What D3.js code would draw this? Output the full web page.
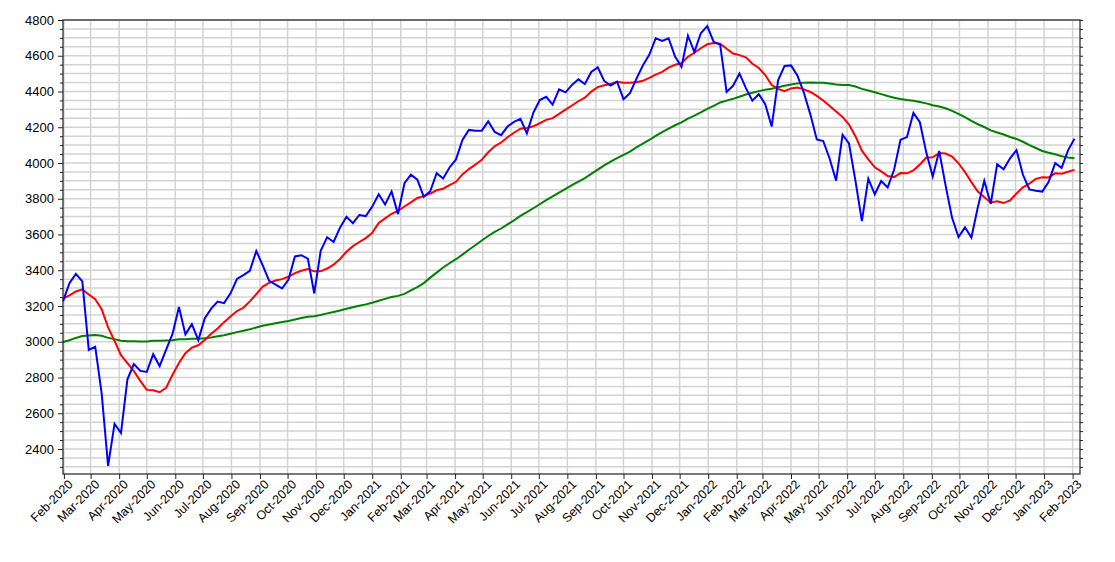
<!DOCTYPE html>
<html><head><meta charset="utf-8">
<script src="https://cdn.jsdelivr.net/npm/d3@7"></script>
<style>body{margin:0;background:#fff}svg{font-family:"DejaVu Sans",sans-serif}</style>
</head><body><svg id="c" width="1115" height="562"></svg>
<script>
// weekly closes before the plotted range (used only for moving averages)
const priorCloses = [2804,2743,2822,2800,2834,2893,2907,2905,2940,2946,2881,2860,2826,2752,2873,2887,2950,2942,2990,3014,2977,3026,2932,2919,2889,2847,2926,2979,3007,2992,2962,2952,2970,2986,3023,3067,3093,3120,3110,3141,3146,3169,3221,3240,3235,3265,3330,3295,3290];
const startDate = "2020-01-31";
const closes = [3226,3328,3380,3338,2954,2972,2711,2305,2541,2489,2790,2875,2837,2831,2930,2864,2955,3044,3194,3041,3098,3009,3130,3185,3225,3216,3271,3351,3373,3397,3508,3427,3341,3319,3298,3348,3477,3484,3465,3270,3509,3585,3558,3638,3699,3663,3709,3703,3756,3825,3768,3841,3714,3887,3935,3907,3811,3842,3943,3913,3975,4020,4129,4185,4180,4181,4233,4174,4156,4204,4230,4247,4166,4281,4352,4370,4327,4412,4395,4437,4468,4442,4509,4535,4459,4433,4455,4357,4391,4471,4545,4605,4698,4683,4698,4595,4538,4712,4621,4726,4766,4677,4663,4398,4432,4501,4419,4349,4385,4329,4204,4463,4543,4546,4488,4393,4272,4132,4123,4024,3901,4158,4109,3901,3675,3912,3825,3899,3863,3962,4130,4145,4280,4228,4058,3924,4067,3873,3693,3586,3640,3583,3753,3901,3771,3993,3965,4026,4072,3934,3852,3845,3840,3895,3999,3973,4071,4136];
const yTicks = [2400,2600,2800,3000,3200,3400,3600,3800,4000,4200,4400,4600,4800];
const seriesColors = {close:"blue", ma10:"red", ma50:"green"};

const svg = d3.select("#c");
const L=63,R=1080,T=20,B=474;
const parse=d3.timeParse("%Y-%m-%d");
const d0=parse(startDate);
const dates=closes.map((_,i)=>d3.timeDay.offset(d0,7*i));
const all=priorCloses.concat(closes);
const ma=n=>closes.map((_,i)=>{const j=i+priorCloses.length;return d3.mean(all.slice(j-n+1,j+1));});
const ma10=ma(10), ma50=ma(50);

const x=d3.scaleTime().domain([d0,parse("2023-02-09")]).range([L,R]);
const y=d3.scaleLinear().domain([2260,4800]).range([B,T]);
const months=d3.timeMonth.range(parse("2020-02-01"),parse("2023-02-02"));

const g=svg.append("g");
g.selectAll(".hg").data(d3.range(2300,4801,50)).join("line")
 .attr("x1",L).attr("x2",R).attr("y1",d=>y(d)).attr("y2",d=>y(d)).attr("stroke","#d3d3d3").attr("stroke-width",1.5);
g.selectAll(".vg").data(months).join("line")
 .attr("x1",d=>x(d)).attr("x2",d=>x(d)).attr("y1",T).attr("y2",B).attr("stroke","#d3d3d3").attr("stroke-width",1.5);

const line=arr=>d3.line().x((d,i)=>x(dates[i])).y(d=>y(d))(arr);
g.append("path").attr("d",line(ma50)).attr("fill","none").attr("stroke",seriesColors.ma50).attr("stroke-width",2);
g.append("path").attr("d",line(ma10)).attr("fill","none").attr("stroke",seriesColors.ma10).attr("stroke-width",2);
g.append("path").attr("d",line(closes)).attr("fill","none").attr("stroke",seriesColors.close).attr("stroke-width",2);

svg.append("rect").attr("x",L).attr("y",T).attr("width",R-L).attr("height",B-T).attr("fill","none").attr("stroke","#222").attr("stroke-width",1.2);

const ya=svg.append("g").attr("transform",`translate(${L},0)`).call(d3.axisLeft(y).tickValues(yTicks).tickSize(5).tickPadding(4).tickFormat(d3.format("d")));
ya.selectAll("text").attr("font-size",13);
svg.append("g").attr("transform",`translate(${L},0)`).call(d3.axisLeft(y).tickValues(d3.range(2300,4801,50).filter(v=>v%200)).tickSize(3).tickFormat(""));
svg.append("g").attr("transform",`translate(${R},0)`).call(d3.axisRight(y).tickValues(d3.range(2300,4801,50)).tickSize(3).tickFormat(""));
const xa=svg.append("g").attr("transform",`translate(0,${B})`).call(d3.axisBottom(x).tickValues(months).tickSize(5).tickFormat(d3.timeFormat("%b-%Y")));
xa.selectAll("text").attr("font-size",12.5).attr("text-anchor","end").attr("dx","-0.1em").attr("dy","0.5em").attr("transform","rotate(-45)");
svg.selectAll(".domain").remove();
svg.selectAll(".tick text").attr("fill","#000");
svg.selectAll(".tick line").attr("stroke","#222");
</script></body></html>
